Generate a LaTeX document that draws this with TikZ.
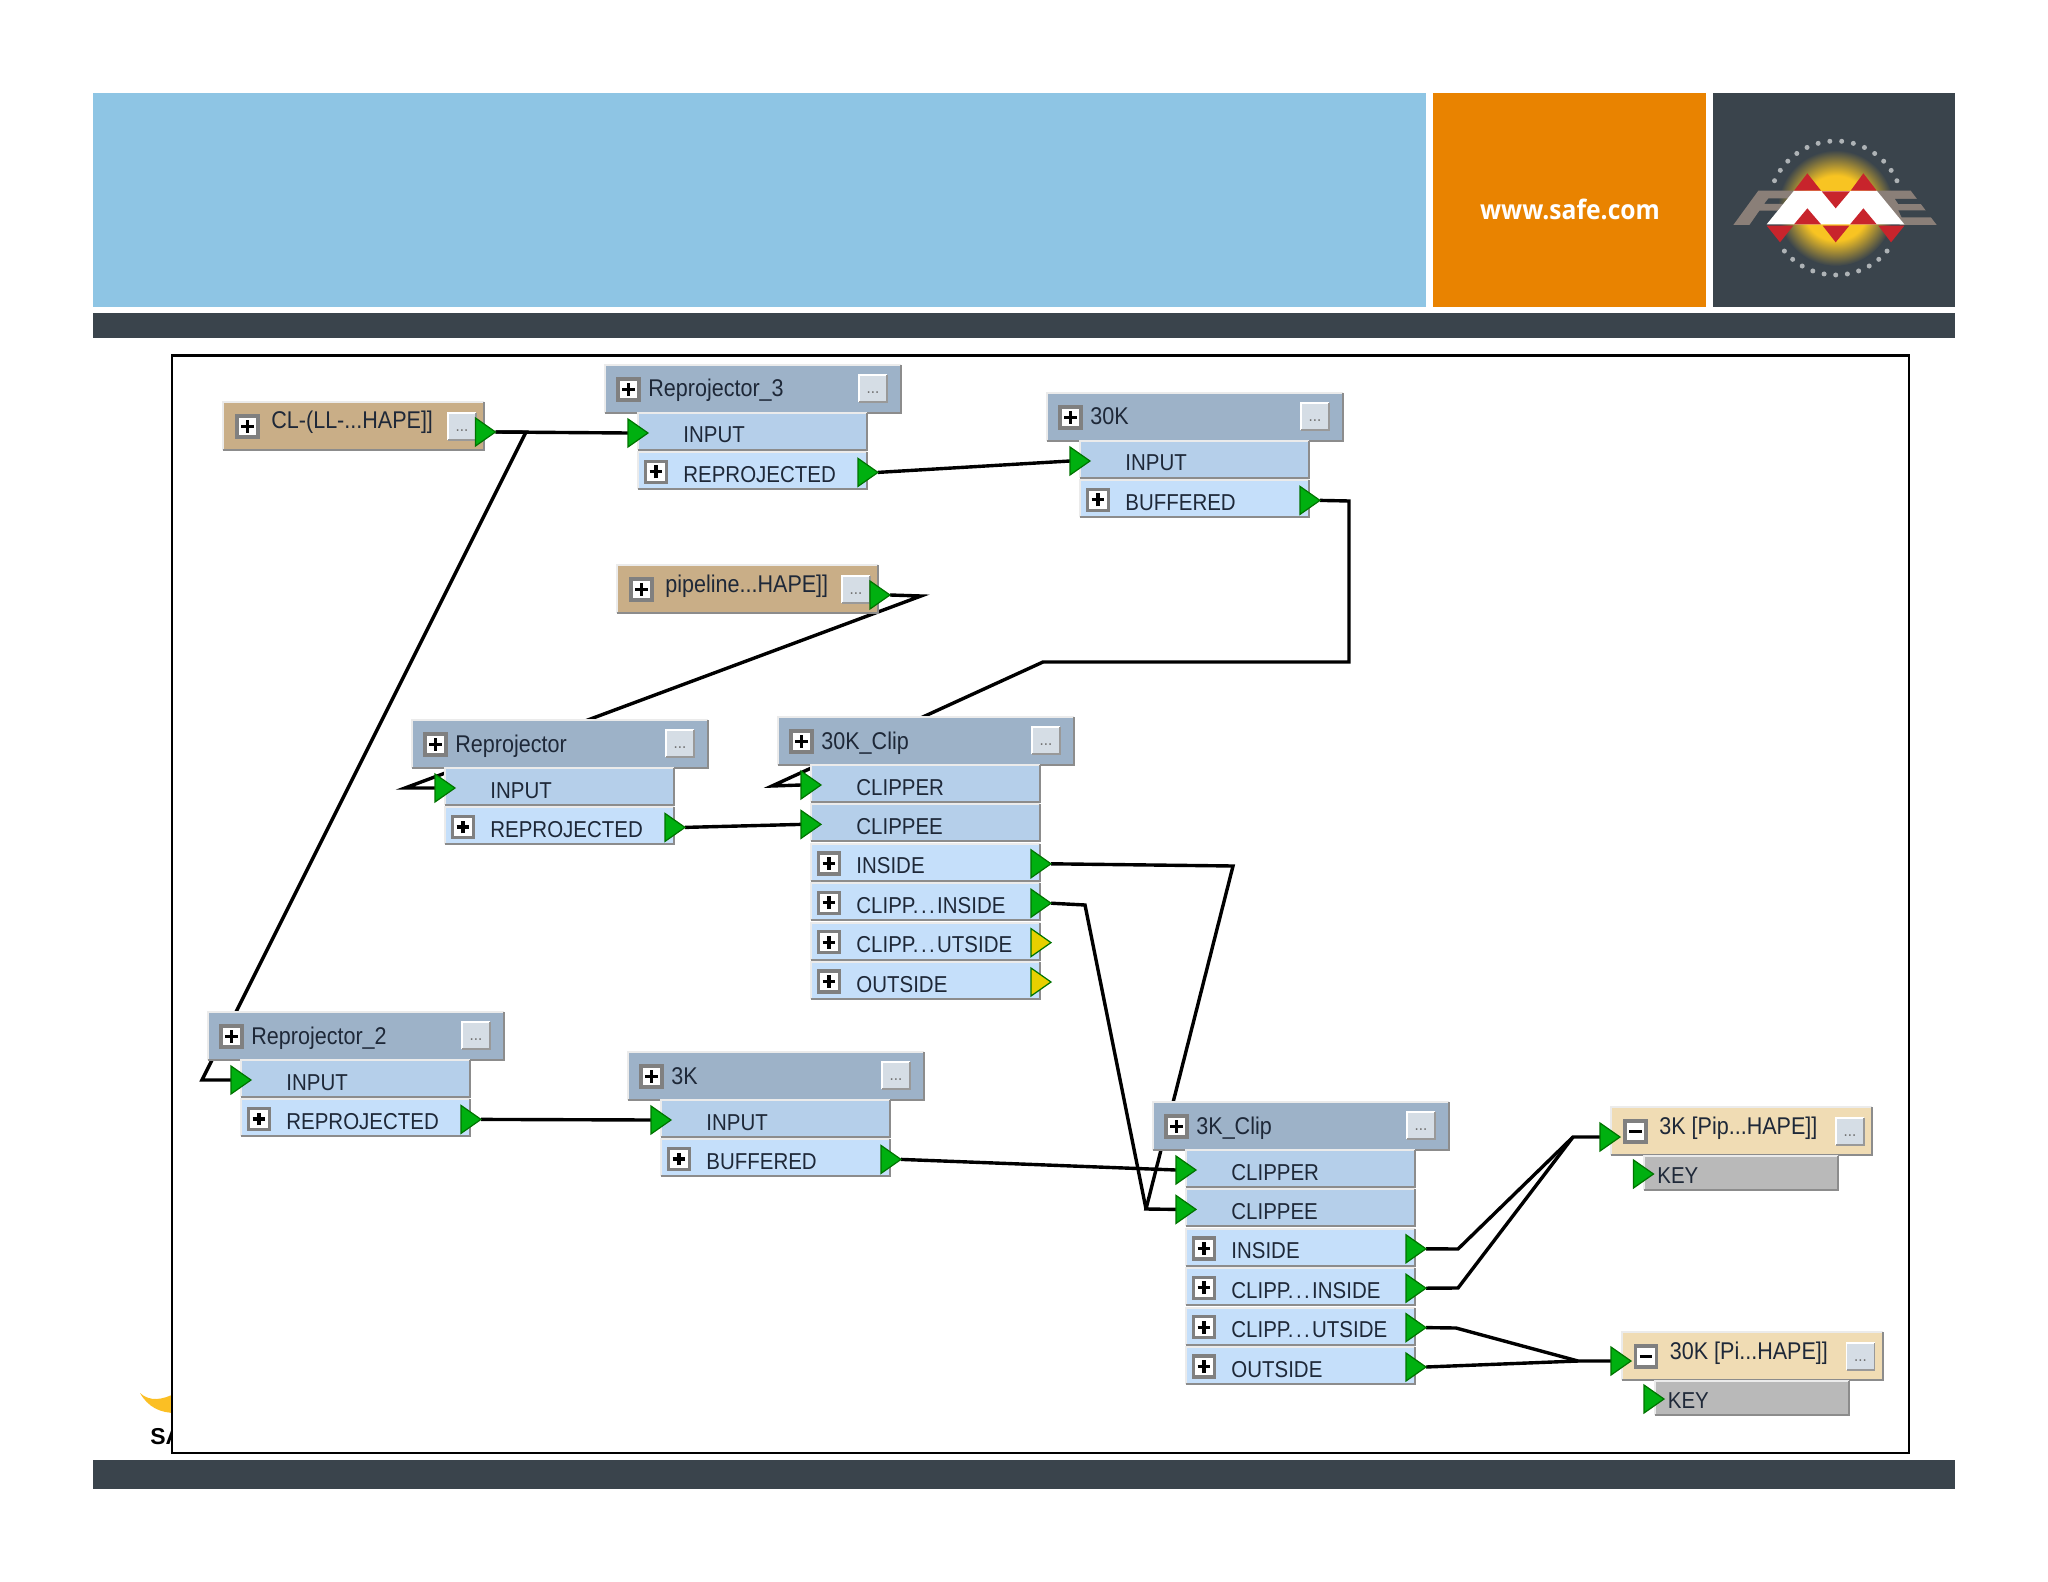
\documentclass[tikz,border=0pt]{standalone}
\usepackage{fontspec}
\usetikzlibrary{shapes.geometric}
\setmainfont{Liberation Sans}
\newfontfamily\uif[FakeStretch=0.89]{Liberation Sans}
\newfontfamily\webf[FakeStretch=0.92]{Open Sans}
\definecolor{bandblue}{HTML}{8EC5E4}
\definecolor{bandorange}{HTML}{E98300}
\definecolor{banddark}{HTML}{3A444C}
\definecolor{hdrblue}{HTML}{9DB2C8}
\definecolor{inrowblue}{HTML}{B5CFEA}
\definecolor{outrowblue}{HTML}{C5DFFA}
\definecolor{srctan}{HTML}{C9AE87}
\definecolor{dstcream}{HTML}{F0DCB4}
\definecolor{keygrey}{HTML}{B9B9B9}
\definecolor{uitext}{HTML}{1E2838}
\definecolor{portgreen}{HTML}{00B010}
\definecolor{portyellow}{HTML}{E8D000}
\definecolor{fmegrey}{HTML}{8A7F78}
\definecolor{fmered}{HTML}{C8242C}
\definecolor{fmeglow}{HTML}{F8C422}
\definecolor{fmedot}{HTML}{AEB3B6}
\definecolor{swoosh}{HTML}{FBBF24}
\definecolor{btnfill}{HTML}{D5DDE5}
\pgfdeclarelayer{bgl}
\pgfdeclarelayer{conn}
\pgfsetlayers{bgl,conn,main}
\pgfdeclareradialshading{fmeshade}{\pgfpointorigin}{color(0bp)=(fmeglow); color(14bp)=(fmeglow); color(25bp)=(banddark); color(50bp)=(banddark)}
\tikzset{
 panelbox/.style={rectangle,anchor=north west,inner sep=0pt,outer sep=0pt},
 lightedge/.style={draw=white!92!black,line width=1pt},
 darkedge/.style={draw=black!45,line width=1pt},
 pbox/.style={rectangle,anchor=north west,inner sep=0pt,outer sep=0pt,draw=black!50,line width=1.7pt,fill=white,minimum width=10.5pt,minimum height=10.5pt},
 signline/.style={black,line width=1.6pt},
 btnbox/.style={panelbox,fill=btnfill,minimum width=14pt,minimum height=13.5pt},
 hlabel/.style={anchor=base west,inner sep=0pt,text=uitext,font=\uif\fontsize{12.1}{14}\selectfont},
 rlabel/.style={anchor=base west,inner sep=0pt,text=uitext,font=\uif\fontsize{11.5}{14}\selectfont},
 dots/.style={anchor=center,inner sep=0pt,text=black!55,font=\uif\fontsize{8.5}{9}\selectfont},
 porttri/.style={isosceles triangle,isosceles triangle stretches,shape border rotate=0,inner sep=0pt,outer sep=0pt,minimum width=14pt,minimum height=10pt,anchor=lower side,draw=black!55!green,line width=.6pt},
 wire/.style={black,line width=1.7pt,line join=miter},
}
\newcommand\rdots{.\kern1.2pt.\kern1.2pt.\kern1.2pt}
\newcommand\panel[6]{%
 \node[panelbox,fill=#6,minimum width=#4*0.5pt,minimum height=#5*0.5pt] (#1) at (#2,#3) {};
 \draw[lightedge] (#1.south west)--(#1.north west)--(#1.north east);
 \draw[darkedge] (#1.north east)--(#1.south east)--(#1.south west);}
\newcommand\plusbox[3]{\node[pbox] (#1) at (#2,#3) {};
 \draw[signline] ([xshift=-3.2pt]#1.center)--([xshift=3.2pt]#1.center);
 \draw[signline] ([yshift=-3.2pt]#1.center)--([yshift=3.2pt]#1.center);}
\newcommand\minusbox[3]{\node[pbox] (#1) at (#2,#3) {};
 \draw[signline] ([xshift=-3.2pt]#1.center)--([xshift=3.2pt]#1.center);}
\newcommand\btn[3]{\node[btnbox] (#1) at (#2,#3) {};
 \draw[draw=white,line width=.9pt] (#1.south west)--(#1.north west)--(#1.north east);
 \draw[draw=black!40,line width=.9pt] (#1.north east)--(#1.south east)--(#1.south west);
 \node[dots] at ([yshift=-2pt]#1.center) {...};}
% header of a transformer: name x y label
\newcommand\tfhead[4]{%
 \panel{#1}{#2}{#3}{296}{48}{hdrblue}
 \pgfmathsetmacro\pxa{#2+13}\pgfmathsetmacro\pya{#3+14}
 \plusbox{#1-p}{\pxa}{\pya}
 \pgfmathsetmacro\pxa{#2+43}\pgfmathsetmacro\pya{#3+32}
 \node[hlabel] (#1-t) at (\pxa,\pya) {#4};
 \pgfmathsetmacro\pxa{#2+254}\pgfmathsetmacro\pya{#3+10}
 \btn{#1-b}{\pxa}{\pya}}
% name hx hy index label
\newcommand\inrow[5]{%
 \pgfmathsetmacro\pxa{#2+33}\pgfmathsetmacro\pya{#3+48+39.4*#4}
 \panel{#1}{\pxa}{\pya}{229}{37}{inrowblue}
 \pgfmathsetmacro\pxa{#2+78}\pgfmathsetmacro\pyb{\pya+30}
 \node[rlabel] (#1-t) at (\pxa,\pyb) {#5};
 \pgfmathsetmacro\pxa{#2+23}\pgfmathsetmacro\pyb{\pya+20}
 \node[porttri,fill=portgreen] (#1-tri) at (\pxa,\pyb) {};}
% name hx hy index label tricolour
\newcommand\outrow[6]{%
 \pgfmathsetmacro\pxa{#2+33}\pgfmathsetmacro\pya{#3+48+39.4*#4}
 \panel{#1}{\pxa}{\pya}{229}{37}{outrowblue}
 \pgfmathsetmacro\pxa{#2+40.5}\pgfmathsetmacro\pyb{\pya+9}
 \plusbox{#1-p}{\pxa}{\pyb}
 \pgfmathsetmacro\pxa{#2+78}\pgfmathsetmacro\pyb{\pya+30}
 \node[rlabel] (#1-t) at (\pxa,\pyb) {#5};
 \pgfmathsetmacro\pxa{#2+253}\pgfmathsetmacro\pyb{\pya+20}
 \node[porttri,fill=#6] (#1-tri) at (\pxa,\pyb) {};}
% feature box: name x y fill label signmacro
\newcommand\featbox[6]{%
 \panel{#1}{#2}{#3}{261}{48}{#4}
 \pgfmathsetmacro\pxa{#2+14}\pgfmathsetmacro\pya{#3+14}
 #6{#1-p}{\pxa}{\pya}
 \pgfmathsetmacro\pxa{#2+48}\pgfmathsetmacro\pya{#3+27}
 \node[hlabel] (#1-t) at (\pxa,\pya) {#5};
 \pgfmathsetmacro\pxa{#2+225}\pgfmathsetmacro\pya{#3+11}
 \btn{#1-b}{\pxa}{\pya}}
\newcommand\keyrow[3]{%
 \pgfmathsetmacro\pxa{#2+33}\pgfmathsetmacro\pya{#3+49}
 \panel{#1}{\pxa}{\pya}{194}{34}{keygrey}
 \pgfmathsetmacro\pxa{#2+46}\pgfmathsetmacro\pya{#3+76}
 \node[rlabel] (#1-t) at (\pxa,\pya) {KEY};
 \pgfmathsetmacro\pxa{#2+22.5}\pgfmathsetmacro\pya{#3+67}
 \node[porttri,fill=portgreen] (#1-tri) at (\pxa,\pya) {};}
\begin{document}
\begin{tikzpicture}[x=0.5pt,y=-0.5pt]
\useasboundingbox (0,0) rectangle (2048,1582);
\begin{pgfonlayer}{bgl}
 \fill[white] (0,0) rectangle (2048,1582);
 \fill[bandblue] (93,93) rectangle (1426,307);
 \fill[bandorange] (1432.5,93) rectangle (1706,307);
 \fill[banddark] (1712.7,93) rectangle (1955,307);
 \fill[banddark] (93,312.7) rectangle (1955,337.7);
 \fill[banddark] (93,1460) rectangle (1955,1489);
 \node[anchor=center,inner sep=0pt,text=white,font=\webf\bfseries\fontsize{13.4}{15}\selectfont] (web) at (1570,209) {www.safe.com};
 % FME logo
 \shade[shading=fmeshade] (1835.7,208) circle (58);
 \foreach \a in {0,...,13} \fill[fmedot] ({1835.7+67*cos(24+10.15*\a)},{208-67*sin(24+10.15*\a)}) circle (2.5);
 \foreach \a in {0,...,10} \fill[fmedot] ({1835.7+67*cos(-140+10*\a)},{208-67*sin(-140+10*\a)}) circle (2.5);
 \begin{scope}[shift={(1720,130)},x=0.16667pt,y=-0.16667pt]
  \fill[fmegrey] (40,285) -- (115,182) -- (225,182) -- (210,205) -- (145,205) -- (132,222) -- (190,222) -- (172,242) -- (118,242) -- (88,285) -- cycle;
  \fill[fmegrey] (470,182) -- (572,182) -- (650,285) -- (540,285) -- cycle;
  \fill[banddark] (525,207) -- (595,207) -- (612,222) -- (535,222) -- cycle;
  \fill[banddark] (535,241) -- (620,241) -- (640,262) -- (545,262) -- cycle;
  \fill[white] (140,283) -- (222,182) -- (470,182) -- (553,283) -- cycle;
  \fill[fmeglow] (300,180) rectangle (392,184);
  \fill[fmered] (262,130) -- (222,182) -- (303,182) -- cycle;
  \fill[fmered] (430,130) -- (392,182) -- (470,182) -- cycle;
  \fill[fmered] (305,184) -- (390,184) -- (347,235) -- cycle;
  \fill[fmered] (262,235) -- (222,283) -- (303,283) -- cycle;
  \fill[fmered] (430,235) -- (390,283) -- (470,283) -- cycle;
  \fill[fmered] (140,287) -- (220,287) -- (180,337) -- cycle;
  \fill[fmered] (308,287) -- (388,287) -- (347,337) -- cycle;
  \fill[fmered] (475,287) -- (553,287) -- (513,337) -- cycle;
 \end{scope}
 % covered logo at lower left
 \fill[swoosh] (140,1393) .. controls (150,1402) and (162,1400) .. (176,1393) -- (176,1413) .. controls (160,1413) and (148,1407) .. (140,1393) -- cycle;
 \node[anchor=base west,inner sep=0pt,font=\bfseries\fontsize{11.5}{13}\selectfont] (safe) at (150,1444) {SA};
 % frame
 \draw[fill=white,draw=black,line width=1.2pt] (172,355.6) rectangle (1909,1453);
\end{pgfonlayer}

% source features
\featbox{cl}{223}{402}{srctan}{CL-(LL-...HAPE]]}{\plusbox}
\node[porttri,fill=portgreen] (cl-tri) at (475.5,432) {};
\featbox{pipe}{617}{565}{srctan}{pipeline...HAPE]]}{\plusbox}
\node[porttri,fill=portgreen] (pipe-tri) at (870,595) {};

% Reprojector_3
\tfhead{rt}{605}{365}{Reprojector\_3}
\inrow{rti}{605}{365}{0}{INPUT}
\outrow{rto}{605}{365}{1}{REPROJECTED}{portgreen}
% 30K
\tfhead{tk}{1047}{393}{30K}
\inrow{tki}{1047}{393}{0}{INPUT}
\outrow{tko}{1047}{393}{1}{BUFFERED}{portgreen}
% Reprojector
\tfhead{ra}{412}{720}{Reprojector}
\inrow{rai}{412}{720}{0}{INPUT}
\outrow{rao}{412}{720}{1}{REPROJECTED}{portgreen}
% 30K_Clip
\tfhead{tc}{778}{717}{30K\_Clip}
\inrow{tca}{778}{717}{0}{CLIPPER}
\inrow{tcb}{778}{717}{1}{CLIPPEE}
\outrow{tcc}{778}{717}{2}{INSIDE}{portgreen}
\outrow{tcd}{778}{717}{3}{CLIPP\rdots INSIDE}{portgreen}
\outrow{tce}{778}{717}{4}{CLIPP\rdots UTSIDE}{portyellow}
\outrow{tcf}{778}{717}{5}{OUTSIDE}{portyellow}
% Reprojector_2
\tfhead{rb}{208}{1012}{Reprojector\_2}
\inrow{rbi}{208}{1012}{0}{INPUT}
\outrow{rbo}{208}{1012}{1}{REPROJECTED}{portgreen}
% 3K
\tfhead{kk}{628}{1052}{3K}
\inrow{kki}{628}{1052}{0}{INPUT}
\outrow{kko}{628}{1052}{1}{BUFFERED}{portgreen}
% 3K_Clip
\tfhead{kc}{1153}{1102}{3K\_Clip}
\inrow{kca}{1153}{1102}{0}{CLIPPER}
\inrow{kcb}{1153}{1102}{1}{CLIPPEE}
\outrow{kcc}{1153}{1102}{2}{INSIDE}{portgreen}
\outrow{kcd}{1153}{1102}{3}{CLIPP\rdots INSIDE}{portgreen}
\outrow{kce}{1153}{1102}{4}{CLIPP\rdots UTSIDE}{portgreen}
\outrow{kcf}{1153}{1102}{5}{OUTSIDE}{portgreen}
% destinations
\featbox{da}{1611}{1107}{dstcream}{3K [Pip...HAPE]]}{\minusbox}
\node[porttri,fill=portgreen] (da-tri) at (1600,1137) {};
\keyrow{dak}{1611}{1107}
\featbox{db}{1621.5}{1332}{dstcream}{30K [Pi...HAPE]]}{\minusbox}
\node[porttri,fill=portgreen] (db-tri) at (1611,1361) {};
\keyrow{dbk}{1621.5}{1332}

% connectors
\coordinate (w1) at (526,432);
\coordinate (w2) at (202,1080);
\coordinate (w3) at (921,596);
\coordinate (w4) at (405,788);
\coordinate (w5) at (1349,501);
\coordinate (w6) at (1349,662);
\coordinate (w7) at (1043,662);
\coordinate (w8) at (772,786);
\coordinate (w9) at (1233,866);
\coordinate (w10) at (1146,1209);
\coordinate (w11) at (1085,905);
\coordinate (w12) at (1458,1249);
\coordinate (w13) at (1573,1137);
\coordinate (w14) at (1458,1288);
\coordinate (w15) at (1456,1328);
\coordinate (w16) at (1578,1361);
\begin{pgfonlayer}{conn}
 \draw[wire] (cl-tri.apex) -- (rti-tri.lower side);
 \draw[wire] (cl-tri.apex) -- (w1) -- (w2) -- (rbi-tri.lower side);
 \draw[wire] (rto-tri.apex) -- (tki-tri.lower side);
 \draw[wire] (pipe-tri.apex) -- (w3) -- (w4) -- (rai-tri.lower side);
 \draw[wire] (tko-tri.apex) -- (w5) -- (w6) -- (w7) -- (w8) -- (tca-tri.lower side);
 \draw[wire] (rao-tri.apex) -- (tcb-tri.lower side);
 \draw[wire] (tcc-tri.apex) -- (w9) -- (w10) -- (kcb-tri.lower side);
 \draw[wire] (tcd-tri.apex) -- (w11) -- (w10);
 \draw[wire] (rbo-tri.apex) -- (kki-tri.lower side);
 \draw[wire] (kko-tri.apex) -- (kca-tri.lower side);
 \draw[wire] (kcc-tri.apex) -- (w12) -- (w13) -- (da-tri.lower side);
 \draw[wire] (kcd-tri.apex) -- (w14) -- (w13);
 \draw[wire] (kce-tri.apex) -- (w15) -- (w16) -- (db-tri.lower side);
 \draw[wire] (kcf-tri.apex) -- (w16);
\end{pgfonlayer}
\end{tikzpicture}
\end{document}
